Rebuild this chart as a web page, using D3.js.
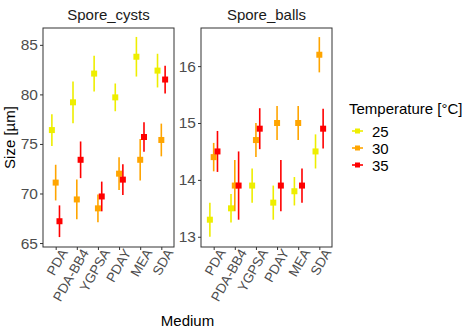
<!DOCTYPE html>
<html>
<head>
<meta charset="utf-8">
<script src="https://cdn.jsdelivr.net/npm/d3@7"></script>
<style>
  body { margin: 0; background: #fff; }
  text { font-family: "Liberation Sans", Arial, sans-serif; }
</style>
</head>
<body>
<div id="chart"></div>
<script>
// categories and groups
var media = ["PDA", "PDA-BB4", "YGPSA", "PDAY", "MEA", "SDA"];
var temps = ["25", "30", "35"];
var colors = ["#eeee00", "#ffa500", "#ff0000"];

// Spore_cysts means and half error bars, per temperature (order of media)
var cystMean25 = [76.4, 79.2, 82.1, 79.7, 83.8, 82.4];
var cystErr25  = [1.6, 2.1, 1.8, 1.4, 2.0, 1.7];
var cystMean30 = [71.1, 69.4, 68.5, 72.0, 73.4, 75.4];
var cystErr30  = [1.8, 2.0, 1.4, 1.65, 2.1, 1.65];
var cystMean35 = [67.2, 73.4, 69.7, 71.4, 75.7, 81.5];
var cystErr35  = [1.6, 1.85, 1.5, 1.55, 1.5, 1.4];

// Spore_balls
var ballMean25 = [13.3, 13.5, 13.9, 13.6, 13.8, 14.5];
var ballErr25  = [0.3, 0.25, 0.3, 0.3, 0.25, 0.3];
var ballMean30 = [14.4, 13.9, 14.7, 15.0, 15.0, 16.2];
var ballErr30  = [0.25, 0.45, 0.3, 0.3, 0.3, 0.31];
var ballMean35 = [14.5, 13.9, 14.9, 13.9, 13.9, 14.9];
var ballErr35  = [0.36, 0.6, 0.36, 0.45, 0.3, 0.35];

var cystTicks = [65, 70, 75, 80, 85];
var ballTicks = [13, 14, 15, 16];

function rows(means, errs) {
  var out = [];
  means.forEach(function(m, t) {
    m.forEach(function(v, i) {
      out.push({ medium: media[i], temp: temps[t], mean: v, err: errs[t][i] });
    });
  });
  return out;
}

var panels = [
  { title: "Spore_cysts", left: 43, right: 174, domain: [64.6, 86.7], ticks: cystTicks,
    data: rows([cystMean25, cystMean30, cystMean35], [cystErr25, cystErr30, cystErr35]) },
  { title: "Spore_balls", left: 201, right: 332, domain: [12.82, 16.67], ticks: ballTicks,
    data: rows([ballMean25, ballMean30, ballMean35], [ballErr25, ballErr30, ballErr35]) }
];

var plotTop = 28, plotBottom = 247;
var grey = "#4d4d4d";

var svg = d3.select("#chart").append("svg")
  .attr("width", 474)
  .attr("height", 336);

var color = d3.scaleOrdinal().domain(temps).range(colors);

panels.forEach(function(p) {
  var x = d3.scalePoint().domain(media).range([p.left, p.right]).padding(0.6);
  var dodge = d3.scalePoint().domain(temps).range([-3.8, 3.8]);
  var y = d3.scaleLinear().domain(p.domain).range([plotBottom, plotTop]);

  // facet title
  svg.append("text")
    .attr("x", (p.left + p.right) / 2)
    .attr("y", 20)
    .attr("text-anchor", "middle")
    .style("font-size", "15px")
    .style("fill", "#1a1a1a")
    .text(p.title);

  // y axis
  var ya = svg.append("g")
    .attr("transform", "translate(" + p.left + ",0)")
    .call(d3.axisLeft(y).tickValues(p.ticks).tickFormat(d3.format("d")).tickSize(3).tickPadding(2));
  ya.select(".domain").remove();
  ya.selectAll("line").attr("stroke", "#333");
  ya.selectAll("text").style("font-size", "15.5px").style("fill", grey);

  // x axis
  var xa = svg.append("g")
    .attr("transform", "translate(0," + plotBottom + ")")
    .call(d3.axisBottom(x).tickSize(3).tickPadding(2));
  xa.select(".domain").remove();
  xa.selectAll("line").attr("stroke", "#333");
  xa.selectAll("text")
    .style("font-size", "13.5px")
    .style("fill", grey)
    .style("text-anchor", "end")
    .attr("dx", "0.1em")
    .attr("dy", "0.6em")
    .attr("transform", "rotate(-60)");

  // panel border
  svg.append("rect")
    .attr("x", p.left)
    .attr("y", plotTop)
    .attr("width", p.right - p.left)
    .attr("height", plotBottom - plotTop)
    .attr("fill", "none")
    .attr("stroke", "#333")
    .attr("stroke-width", 1);

  var g = svg.append("g");

  // error bars
  g.selectAll("line.err").data(p.data).enter().append("line")
    .attr("class", "err")
    .attr("x1", function(d) { return x(d.medium) + dodge(d.temp); })
    .attr("x2", function(d) { return x(d.medium) + dodge(d.temp); })
    .attr("y1", function(d) { return y(d.mean - d.err); })
    .attr("y2", function(d) { return y(d.mean + d.err); })
    .attr("stroke", function(d) { return color(d.temp); })
    .attr("stroke-width", 1.6);

  // points
  g.selectAll("rect.pt").data(p.data).enter().append("rect")
    .attr("class", "pt")
    .attr("x", function(d) { return x(d.medium) + dodge(d.temp) - 3; })
    .attr("y", function(d) { return y(d.mean) - 3; })
    .attr("width", 6)
    .attr("height", 6)
    .attr("fill", function(d) { return color(d.temp); });
});

// axis titles
svg.append("text")
  .attr("transform", "translate(15," + ((plotTop + plotBottom) / 2) + ") rotate(-90)")
  .attr("text-anchor", "middle")
  .style("font-size", "15px")
  .style("fill", "#000")
  .text("Size [µm]");

svg.append("text")
  .attr("x", (43 + 332) / 2)
  .attr("y", 326)
  .attr("text-anchor", "middle")
  .style("font-size", "15px")
  .style("fill", "#000")
  .text("Medium");

// legend
var legend = svg.append("g").attr("transform", "translate(349,0)");
legend.append("text")
  .attr("x", 0)
  .attr("y", 114)
  .style("font-size", "15px")
  .style("fill", "#000")
  .text("Temperature [°C]");

temps.forEach(function(t, i) {
  var ly = 131 + i * 17;
  legend.append("line")
    .attr("x1", 3).attr("x2", 14)
    .attr("y1", ly).attr("y2", ly)
    .attr("stroke", color(t))
    .attr("stroke-width", 1.6);
  legend.append("rect")
    .attr("x", 6).attr("y", ly - 2.5)
    .attr("width", 5).attr("height", 5)
    .attr("fill", color(t));
  legend.append("text")
    .attr("x", 23)
    .attr("y", ly + 5.5)
    .style("font-size", "15px")
    .style("fill", "#000")
    .text(t);
});
</script>
</body>
</html>
